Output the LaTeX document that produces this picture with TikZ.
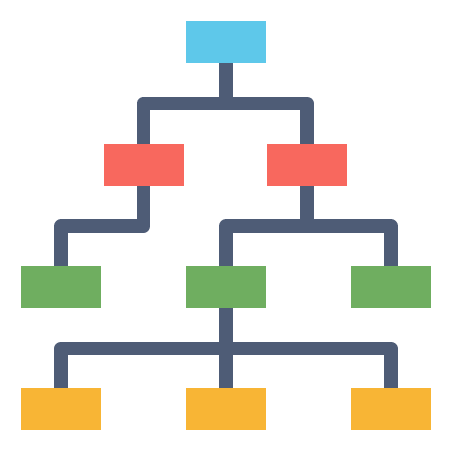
\documentclass[tikz,border=0pt]{standalone}
\usetikzlibrary{backgrounds}
\definecolor{cblue}{HTML}{5EC8EA}
\definecolor{cred}{HTML}{F8685E}
\definecolor{cgreen}{HTML}{6FAE60}
\definecolor{cyellow}{HTML}{F8B535}
\definecolor{cslate}{HTML}{4E5C76}
\begin{document}
\begin{tikzpicture}[x=1pt,y=-1pt,
  box/.style={rectangle,minimum width=80pt,minimum height=42pt,inner sep=0pt,outer sep=0pt},
  conn/.style={draw=cslate,line width=13.5pt,line join=round,line cap=butt}]
\useasboundingbox (0,0) rectangle (452,452);
\node[box,fill=cblue] (top) at (225.8,42.2) {};
\node[box,fill=cred] (r1) at (143.7,165) {};
\node[box,fill=cred] (r2) at (307,165) {};
\node[box,fill=cgreen] (g1) at (61,286.8) {};
\node[box,fill=cgreen] (g2) at (225.8,286.8) {};
\node[box,fill=cgreen] (g3) at (391,286.8) {};
\node[box,fill=cyellow] (y1) at (61,409.2) {};
\node[box,fill=cyellow] (y2) at (225.8,409.2) {};
\node[box,fill=cyellow] (y3) at (391,409.2) {};
\coordinate (j1) at (225,103.3);
\coordinate (j2) at (143.7,226);
\coordinate (j3) at (308,226);
\coordinate (j4) at (225,348.5);
\begin{scope}[on background layer]
\path[conn] (r1.north) |- (j1) -| (r2.north);
\path[conn] (top.south) -- (top.south |- j1);
\path[conn] (r1.south) -- (j2) -| (g1.north);
\path[conn] (g2.north) |- (j3) -| (g3.north);
\path[conn] (r2.south) -- (r2.south |- j3);
\path[conn] (y1.north) |- (j4) -| (y3.north);
\path[conn] (g2.south) -- (y2.north);
\end{scope}
\end{tikzpicture}
\end{document}
